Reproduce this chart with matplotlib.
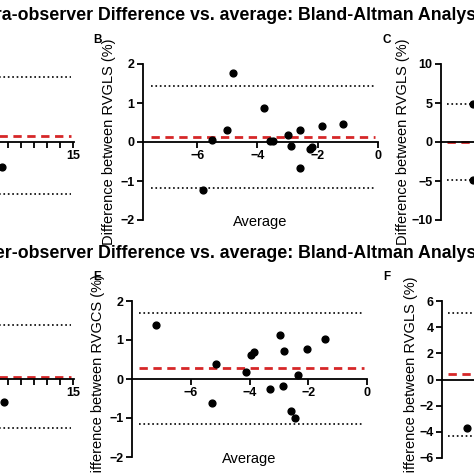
import matplotlib
matplotlib.use("Agg")
import matplotlib.pyplot as plt
import numpy as np

plt.rcParams['font.family'] = ['Liberation Sans', 'DejaVu Sans']

# Panel B (intra-observer, RVGLS)
b_x = [-5.8, -5.52, -5.0, -4.81, -3.8, -3.59, -3.48, -2.99, -2.88, -2.59, -2.59, -2.26, -2.19, -1.87, -1.16]
b_y = [-1.22, 0.06, 0.3, 1.77, 0.88, 0.02, 0.02, 0.17, -0.11, 0.3, -0.66, -0.19, -0.13, 0.4, 0.47]
b_bias, b_hi, b_lo = 0.13, 1.44, -1.18
# Panel E (inter-observer, RVGCS)
e_x = [-7.2, -5.28, -5.14, -4.11, -3.94, -3.86, -3.3, -2.97, -2.86, -2.83, -2.59, -2.45, -2.34, -2.05, -1.44]
e_y = [1.38, -0.62, 0.38, 0.17, 0.62, 0.7, -0.25, 1.14, -0.17, 0.72, -0.81, -1.0, 0.11, 0.77, 1.03]
e_bias, e_hi, e_lo = 0.27, 1.69, -1.15
# Panel A / D partial
a_x, a_y = [9.5], [-0.64]
a_bias, a_hi, a_lo = 0.15, 1.67, -1.33
d_x, d_y = [9.7], [-0.6]
d_bias, d_hi, d_lo = 0.05, 1.38, -1.26
# Panel C / F partial
c_x, c_y = [1.6, 1.6], [4.9, -4.9]
c_bias, c_hi, c_lo = 0.0, 4.9, -4.9
f_x, f_y = [1.25], [-3.7]
f_bias, f_hi, f_lo = 0.4, 5.1, -4.3

W = H = 474
fig = plt.figure(figsize=(4.74, 4.74), dpi=100)

def axes_px(l, t, r, b):
    return fig.add_axes([l / W, 1 - b / H, (r - l) / W, (b - t) / H])

def style(ax, xlim, ylim, xticks, yticks):
    ax.set_xlim(*xlim); ax.set_ylim(*ylim)
    for s in ['top', 'right']:
        ax.spines[s].set_visible(False)
    ax.spines['bottom'].set_position(('data', 0))
    for s in ['left', 'bottom']:
        ax.spines[s].set_linewidth(1.3)
    ax.set_xticks(xticks); ax.set_yticks(yticks)
    ax.tick_params(direction='out', length=4, width=1.3, pad=2)
    for lab in ax.get_xticklabels() + ax.get_yticklabels():
        lab.set_fontweight('bold'); lab.set_fontsize(9)
    ax.patch.set_alpha(0)

def draw(ax, x, y, bias, hi, lo, x0, x1):
    ax.plot([x0, x1], [hi, hi], ls=':', color='black', lw=1.2)
    ax.plot([x0, x1], [lo, lo], ls=':', color='black', lw=1.2)
    ax.plot([x0, x1], [bias, bias], ls='--', color='#d62728', lw=2, dashes=(3, 2))
    ax.scatter(x, y, s=24, color='black', zorder=5, clip_on=False)

def partial_left(l, t, r, b, x, y, bias, hi, lo):
    ax = axes_px(l, t, r, b)
    style(ax, (0, 15.05), (-2, 2), [15], [])
    ax.set_xticks(np.arange(0, 15, 1), minor=True)
    ax.tick_params(which='minor', length=4, width=1.3)
    ax.spines['left'].set_visible(False)
    draw(ax, x, y, bias, hi, lo, 0.3, 14.8)

partial_left(-122, 64, 74, 220, a_x, a_y, a_bias, a_hi, a_lo)
partial_left(-122, 301, 74, 457, d_x, d_y, d_bias, d_hi, d_lo)

ylab = dict(fontsize=10.5)

# Panel B
ax = axes_px(143, 64, 378, 220)
style(ax, (-7.8, 0), (-2, 2), [-6, -4, -2, 0], [-2, -1, 0, 1, 2])
draw(ax, b_x, b_y, b_bias, b_hi, b_lo, -7.55, -0.1)
ax.set_xlabel('Average', fontsize=10.5)
ax.xaxis.set_label_coords(0.5, 0.03)
ax.set_ylabel('Difference between RVGLS (%)', labelpad=3, **ylab)

# Panel C
ax = axes_px(441, 64, 641, 220)
style(ax, (0, 10), (-10, 10), [], [-10, -5, 0, 5, 10])
draw(ax, c_x, c_y, c_bias, c_hi, c_lo, 0.3, 10)
ax.set_ylabel('Difference between RVGLS (%)', labelpad=1, **ylab)

# Panel E
ax = axes_px(132, 301, 367, 457)
style(ax, (-8, 0), (-2, 2), [-6, -4, -2, 0], [-2, -1, 0, 1, 2])
draw(ax, e_x, e_y, e_bias, e_hi, e_lo, -7.75, -0.1)
ax.set_xlabel('Average', fontsize=10.5)
ax.xaxis.set_label_coords(0.5, 0.03)
ax.set_ylabel('Difference between RVGCS (%)', labelpad=3, **ylab)

# Panel F
ax = axes_px(442, 301, 642, 458)
style(ax, (0, 10), (-6, 6), [], [-6, -4, -2, 0, 2, 4, 6])
draw(ax, f_x, f_y, f_bias, f_hi, f_lo, 0.3, 10)
ax.set_ylabel('Difference between RVGLS (%)', labelpad=1, **ylab)

# titles and letters
fig.text(232 / W, 1 - 15 / H, 'Intra-observer Difference vs. average: Bland-Altman Analysis',
         ha='center', va='center', fontsize=12.8, fontweight='bold')
fig.text(232 / W, 1 - 254 / H, 'Inter-observer Difference vs. average: Bland-Altman Analysis',
         ha='center', va='center', fontsize=12.8, fontweight='bold')
for lbl, px, py in [('B', 98, 40), ('C', 387, 40), ('E', 97, 277), ('F', 387, 277)]:
    fig.text(px / W, 1 - py / H, lbl, ha='center', va='center', fontsize=8.5, fontweight='bold')

fig.savefig('out.png', dpi=100)
